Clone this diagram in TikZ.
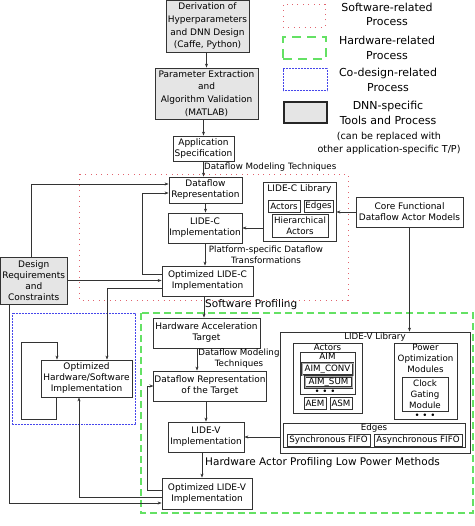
\documentclass[tikz,border=0pt]{standalone}
\usepackage{fontspec}
\setmainfont{DejaVu Sans}
\usetikzlibrary{arrows.meta}

\definecolor{swred}{RGB}{225,100,110}
\definecolor{hwgreen}{RGB}{100,225,100}
\definecolor{cdblue}{RGB}{70,70,235}
\newcommand\mainfs{\fontsize{9}{11}\selectfont}
\newcommand\libfs{\fontsize{8.7}{11}\selectfont}
\newcommand\topfs{\fontsize{9}{12.7}\selectfont}
\newcommand\bigfs{\fontsize{10.5}{13}\selectfont}
\newcommand\legfs{\fontsize{11}{14.3}\selectfont}
\newcommand\notefs{\fontsize{9.6}{13}\selectfont}

\begin{document}
\begin{tikzpicture}[x=1pt, y=-1pt,
  box/.style={draw=black!80, line width=0.8pt, align=center, inner sep=0.5pt, font=\mainfs},
  dnn/.style={box, fill=black!10},
  lib/.style={box, font=\libfs},
  dbl/.style={lib, double=black!35, double distance=0.7pt},
  ttl/.style={anchor=north, inner sep=1pt, align=center, font=\libfs},
  txt/.style={inner sep=0pt, align=center, font=\libfs},
  arr/.style={draw=black!80, line width=0.8pt, -{Stealth[length=4pt,width=3pt]}},
  swline/.style={draw=swred, line width=0.9pt, dash pattern=on 0.9pt off 4.5pt},
  hwline/.style={draw=hwgreen, line width=1.2pt, dash pattern=on 7pt off 4pt},
  cdline/.style={draw=cdblue, line width=0.9pt, dash pattern=on 0.7pt off 0.8pt}]
\useasboundingbox (0,0) rectangle (474,526);

% regions
\draw[swline] (79,174) rectangle (348,300);
\draw[hwline] (141,313) rectangle (473,513);
\draw[cdline] (12,313) rectangle (135,424);

% legend
\node[swline, minimum width=42pt, minimum height=23pt] (legsw) at (304,15.5) {};
\node[txt, font=\legfs] (legswt) at (387,14.5) {Software-related\\Process};
\node[hwline, dash pattern=on 9pt off 6pt, minimum width=43pt, minimum height=22pt] (leghw) at (304.5,48) {};
\node[txt, font=\legfs] (leghwt) at (387,48) {Hardware-related\\Process};
\node[cdline, line width=1pt, minimum width=44pt, minimum height=22pt] (legcd) at (305,80) {};
\node[txt, font=\legfs] (legcdt) at (388,80) {Co-design-related\\Process};
\node[draw=black!85, line width=1.2pt, fill=black!10, minimum width=43pt, minimum height=21pt] (legdnn) at (305.5,112.5) {};
\node[txt, font=\legfs] (legdnnt) at (388,113) {DNN-specific\\Tools and Process};
\node[txt, font=\notefs] (legnote) at (389,143.5) {(can be replaced with\\other application-specific T/P)};

% software flow
\node[dnn, font=\topfs, minimum width=83pt, minimum height=51.5pt] (deriv) at (207.5,26.25) {Derivation of\\Hyperparameters\\and DNN Design\\(Caffe, Python)};
\node[dnn, font=\topfs, minimum width=103pt, minimum height=51pt] (param) at (206.5,93.5) {Parameter Extraction\\and\\Algorithm Validation\\(MATLAB)};
\node[box, minimum width=61pt, minimum height=25pt] (appspec) at (203.5,148.5) {Application\\Specification};
\node[box, minimum width=73pt, minimum height=26pt] (dfrep) at (205.5,190) {Dataflow\\Representation};
\node[box, minimum width=74pt, minimum height=30pt] (lidec) at (205,228) {LIDE-C\\Implementation};
\node[box, minimum width=91pt, minimum height=30pt] (optc) at (207.5,281) {Optimized LIDE-C\\Implementation};
\node[dnn, minimum width=66.5pt, minimum height=47pt] (design) at (33.75,280.5) {Design\\Requirements\\and\\Constraints};
\node[box, minimum width=107pt, minimum height=30pt] (core) at (409.5,212) {Core Functional\\Dataflow Actor Models};

\node[box, minimum width=73pt, minimum height=59pt] (clib) at (299.5,211.5) {};
\node[ttl, font=\mainfs, yshift=-1.5pt] (clibt) at (clib.north) {LIDE-C Library};
\node[lib, minimum width=32pt, minimum height=12pt] (cact) at (284,206) {Actors};
\node[lib, minimum width=29pt, minimum height=12pt] (cedge) at (318.5,206) {Edges};
\node[lib, minimum width=56pt, minimum height=23pt] (chier) at (300,225.5) {Hierarchical\\Actors};

% hardware flow
\node[box, minimum width=107pt, minimum height=30pt] (hwacc) at (206.5,333) {Hardware Acceleration\\Target};
\node[box, minimum width=112pt, minimum height=30pt] (dftgt) at (210,386) {Dataflow Representation\\of the Target};
\node[box, minimum width=76pt, minimum height=30pt] (lidev) at (206,437) {LIDE-V\\Implementation};
\node[box, minimum width=90pt, minimum height=31pt] (optv) at (207,493.5) {Optimized LIDE-V\\Implementation};
\node[box, minimum width=91pt, minimum height=37pt] (hwsw) at (86.5,378.5) {Optimized\\Hardware/Software\\Implementation};

\node[lib, minimum width=190pt, minimum height=121pt] (vlib) at (375,392.5) {};
\node[ttl] (vlibt) at (vlib.north) {LIDE-V Library};
\node[lib, minimum width=69pt, minimum height=70pt] (vact) at (327.5,378) {};
\node[ttl] (vactt) at (vact.north) {Actors};
\node[lib, minimum width=55pt, minimum height=42pt] (aim) at (327.5,373) {};
\node[ttl] (aimt) at (aim.north) {AIM};
\node[dbl, minimum width=51pt, minimum height=12pt] (aimconv) at (327.5,369) {AIM\_CONV};
\node[dbl, minimum width=47pt, minimum height=11pt] (aimsum) at (328.5,382) {AIM\_SUM};
\node[txt] (aimdots) at (325,392.5) {• • •};
\node[lib, minimum width=22pt, minimum height=12pt] (aem) at (315,403) {AEM};
\node[lib, minimum width=22pt, minimum height=12pt] (asm) at (341,403) {ASM};
\node[lib, minimum width=63pt, minimum height=76pt] (pom) at (425.5,381) {};
\node[ttl] (pomt) at (pom.north) {Power\\Optimization\\Modules};
\node[lib, minimum width=46pt, minimum height=34pt] (clock) at (425,394) {Clock\\Gating\\Module};
\node[txt] (pomdots) at (425,416) {• • •};
\node[lib, minimum width=182pt, minimum height=24pt] (edges) at (374,435) {};
\node[ttl] (edgest) at (edges.north) {Edges};
\node[lib, minimum width=83pt, minimum height=12pt] (sfifo) at (328.5,440) {Synchronous FIFO};
\node[lib, minimum width=88pt, minimum height=12pt] (afifo) at (418,440) {Asynchronous FIFO};

% connector labels
\node[txt, anchor=west] (dmt) at (204,167) {Dataflow Modeling Techniques};
\node[txt] (pdt) at (266,255) {Platform-specific Dataflow\\Transformations};
\node[txt, anchor=west, font=\bigfs] (swprof) at (205,305) {Software Profiling};
\node[txt] (dmtv) at (239,358.5) {Dataflow Modeling\\Techniques};
\node[txt, anchor=west, font=\bigfs] (hwprof) at (205,463) {Hardware Actor Profiling Low Power Methods};

% connectors
\draw[arr] (param.north |- deriv.south) -- (param.north);
\draw[arr] (appspec.north |- param.south) -- (appspec.north);
\draw[arr] (appspec.south) -- (appspec.south |- dfrep.north);
\draw[arr] (dfrep.south) -- (dfrep.south |- lidec.north);
\draw[arr] (lidec.south) -- (lidec.south |- optc.north);
\draw[arr] (core.west) -- (core.west -| clib.east);
\draw[arr] (lidec.east -| clib.west) -- (lidec.east);
\draw[arr] ([xshift=-2.5pt]design.north) |- ([yshift=6pt]dfrep.west);
\draw[arr] ([yshift=7pt]optc.west) -- ++(-19,0) |- ([yshift=-3pt]dfrep.west);
\draw[arr] (design.east) -- (design.east -| optc.west);
\draw[arr] ([yshift=-7pt]optc.west) -| ([xshift=20.5pt]hwsw.north);
\draw[arr] ([xshift=-3.5pt]optc.south) -- ([xshift=-3.5pt]optc.south |- hwacc.north);
\draw[arr] ([xshift=-9.5pt]hwacc.south) -- ([xshift=-9.5pt]hwacc.south |- dftgt.north);
\draw[arr] (lidev.north |- dftgt.south) -- (lidev.north);
\draw[arr] (lidev.east -| vlib.west) -- (lidev.east);
\draw[arr] ([xshift=-4pt]lidev.south) -- ([xshift=-4pt]lidev.south |- optv.north);
\draw[arr] ([yshift=3.5pt]optv.west) -- ++(-14,0) |- (dftgt.west);
\draw[arr] ([yshift=-3.5pt]optv.west) -| ([xshift=-7.5pt]hwsw.south);
\draw[arr] ([xshift=-24.75pt]design.south) |- ([yshift=-9.5pt]optv.west);
\draw[arr] ([xshift=-30.5pt]hwsw.south) -- ++(0,22) -- ++(-35,0) -- ++(0,-77) -| ([xshift=-29.5pt]hwsw.north);
\draw[arr] (core.south) -- (core.south |- vlib.north);
\end{tikzpicture}
\end{document}
